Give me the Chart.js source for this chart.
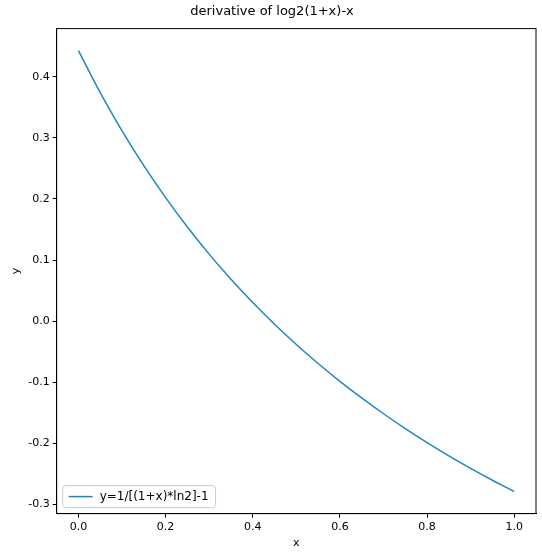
<!DOCTYPE html>
<html><head><script src="https://cdn.jsdelivr.net/npm/chart.js@4"></script>
<style>body{margin:0;background:#fff}#w{width:542px;height:554px}</style></head>
<body><div id="w"><canvas id="c"></canvas></div>
<script>
const xs=[0,0.05,0.1,0.15,0.2,0.25,0.3,0.35,0.4,0.45,0.5,0.55,0.6,0.65,0.7,0.75,0.8,0.85,0.9,0.95,1.0];
const ys=[0.4427,0.3740,0.3115,0.2545,0.2022,0.1542,0.1098,0.0687,0.0305,-0.0050,-0.0382,-0.0692,-0.0983,-0.1256,-0.1514,-0.1756,-0.1985,-0.2202,-0.2407,-0.2602,-0.2787];
const seriesLabel='y=1/[(1+x)*ln2]-1';
const legendPlugin={id:'lg',afterDraw(ch){const a=ch.chartArea,c=ch.ctx;c.save();
c.font='12px "DejaVu Sans"';const w=c.measureText(seriesLabel).width;
const x=a.left+6,y=a.bottom-28;c.fillStyle='rgba(255,255,255,0.8)';c.strokeStyle='#ccc';c.lineWidth=1;
c.beginPath();c.roundRect(x,y,w+44,22,3);c.fill();c.stroke();
c.strokeStyle='#1f86c4';c.lineWidth=1.5;c.beginPath();c.moveTo(x+6,y+11);c.lineTo(x+30,y+11);c.stroke();
c.fillStyle='#000';c.textBaseline='middle';c.fillText(seriesLabel,x+37,y+11);
c.strokeStyle='#000';c.lineWidth=1;c.strokeRect(a.left,a.top,a.right-a.left,a.bottom-a.top);c.restore();}};
new Chart(document.getElementById('c'),{type:'line',
data:{datasets:[{label:seriesLabel,data:xs.map((x,i)=>({x,y:ys[i]})),borderColor:'#1f86c4',borderWidth:1.5,pointRadius:0,tension:0.4,fill:false}]},
options:{responsive:true,maintainAspectRatio:false,animation:false,
layout:{padding:{left:8,right:6,top:0,bottom:4}},
plugins:{legend:{display:false},tooltip:{enabled:false},
title:{display:true,text:'derivative of log2(1+x)-x',color:'#000',font:{family:'DejaVu Sans',size:13,weight:'normal'},padding:{top:4,bottom:9}}},
scales:{x:{type:'linear',min:-0.05,max:1.05,afterBuildTicks(s){s.ticks=[0,0.2,0.4,0.6,0.8,1].map(v=>({value:v}));},
ticks:{color:'#000',font:{family:'DejaVu Sans',size:11},callback:v=>v.toFixed(1),maxRotation:0},
grid:{drawOnChartArea:false,tickLength:4,color:'#000'},border:{color:'#000'},
title:{display:true,text:'x',color:'#000',font:{family:'DejaVu Sans',size:11},padding:0}},
y:{min:-0.3148,max:0.4788,afterBuildTicks(s){s.ticks=[-0.3,-0.2,-0.1,0,0.1,0.2,0.3,0.4].map(v=>({value:v}));},
ticks:{color:'#000',font:{family:'DejaVu Sans',size:11},callback:v=>v.toFixed(1)},
grid:{drawOnChartArea:false,tickLength:4,color:'#000'},border:{color:'#000'},
title:{display:true,text:'y',color:'#000',font:{family:'DejaVu Sans',size:11},padding:2}}}},
plugins:[legendPlugin]});
</script></body></html>
